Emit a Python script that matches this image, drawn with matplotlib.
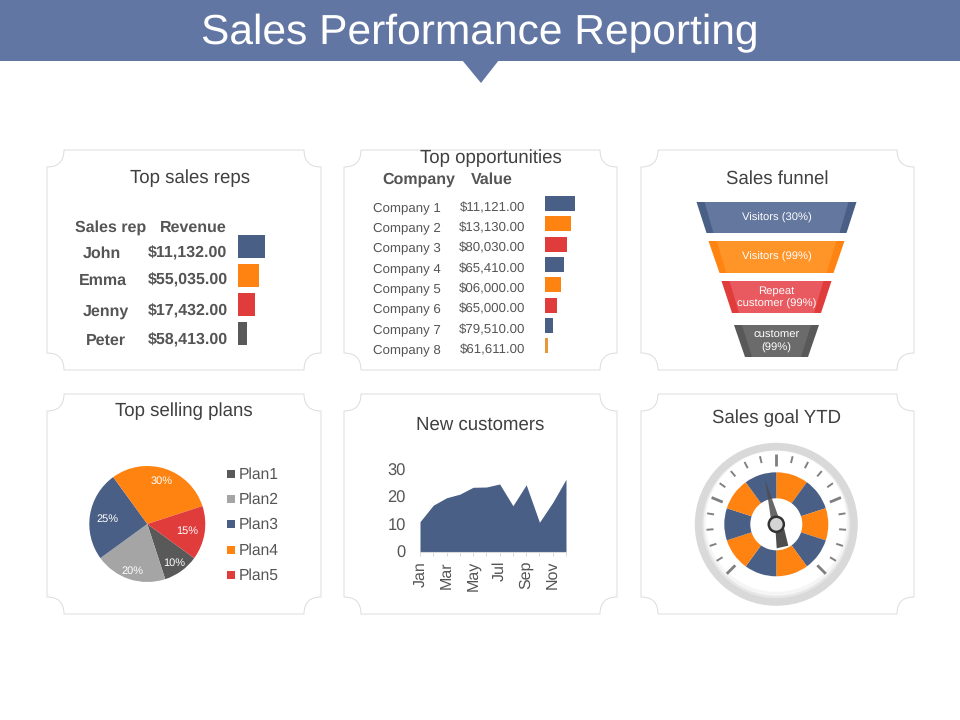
import numpy as np
import matplotlib
matplotlib.use("Agg")
import matplotlib.pyplot as plt
from matplotlib.patches import Circle, Polygon, PathPatch, Rectangle
from matplotlib.path import Path

plt.rcParams['font.family'] = ['Liberation Sans', 'DejaVu Sans']
plt.rcParams['text.hinting'] = 'none'

##### DATA #####
title = "Sales Performance Reporting"

reps = ["John", "Emma", "Jenny", "Peter"]
rep_revenue = ["$11,132.00", "$55,035.00", "$17,432.00", "$58,413.00"]
rep_bars = [27, 21, 17, 9]

companies = ["Company 1", "Company 2", "Company 3", "Company 4",
             "Company 5", "Company 6", "Company 7", "Company 8"]
company_values = ["$11,121.00", "$13,130.00", "$80,030.00", "$65,410.00",
                  "$06,000.00", "$65,000.00", "$79,510.00", "$61,611.00"]
company_bars = [30, 26, 22, 19, 16, 12, 8, 3]

funnel_labels = ["Visitors (30%)", "Visitors (99%)", "Repeat\ncustomer (99%)", "customer\n(99%)"]

plans = ["Plan1", "Plan2", "Plan3", "Plan4", "Plan5"]
plan_share = [10, 20, 25, 30, 15]

months = ["Jan", "", "Mar", "", "May", "", "Jul", "", "Sep", "", "Nov", ""]
new_customers = [11, 17, 19.7, 21, 23.5, 23.6, 24.7, 16.8, 24.4, 10.8, 18, 26.4]

goal_segments = [10, 10, 10, 10, 10, 10, 10, 10, 10, 10]

##### COLOURS #####
BLUE = "#4a5f85"
ORANGE = "#ff8310"
RED = "#e03c3c"
GREY = "#595959"
LIGHT = "#a5a5a5"
HEADER = "#6276a3"
TXT = "#404040"
TBL = "#555555"

W, H = 960, 720
fig = plt.figure(figsize=(W/100, H/100), dpi=100, facecolor="white")
bg = fig.add_axes([0, 0, 1, 1])
bg.set_xlim(0, W)
bg.set_ylim(H, 0)
bg.axis("off")


def px(size):
    return size*0.72


def px_axes(x0, y0, x1, y1):
    # axes placed by pixel box, y measured from the top
    return fig.add_axes([x0/W, 1-y1/H, (x1-x0)/W, (y1-y0)/H])


def label(x, y, s, size, color=TXT, ha="center", weight="normal", **kw):
    # y is the middle of the capitals, so rows with and without descenders line up
    bg.text(x, y+0.35*size, s, fontsize=px(size), color=color, ha=ha, va="baseline", fontweight=weight, **kw)


def card(x0, y0, x1, y1, r=17):
    verts = [(x0+r, y0), (x1-r, y0), (x1-r, y0+r), (x1, y0+r),
             (x1, y1-r), (x1-r, y1-r), (x1-r, y1), (x0+r, y1),
             (x0+r, y1-r), (x0, y1-r), (x0, y0+r), (x0+r, y0+r), (x0+r, y0)]
    codes = [Path.MOVETO, Path.LINETO, Path.CURVE3, Path.CURVE3,
             Path.LINETO, Path.CURVE3, Path.CURVE3, Path.LINETO,
             Path.CURVE3, Path.CURVE3, Path.LINETO, Path.CURVE3, Path.CURVE3]
    bg.add_patch(PathPatch(Path(verts, codes), fc="white", ec="#dcdcdc", lw=0.7))


# header
bg.add_patch(Rectangle((0, 0), W, 61, fc=HEADER, ec="none"))
bg.add_patch(Polygon([(462, 60), (499, 60), (481, 83)], fc=HEADER, ec="none"))
label(480, 29.5, title, 42.5, color="white")

# cards
for x0, x1 in [(47, 321), (344, 617), (641, 914)]:
    card(x0, 150, x1, 370)
    card(x0, 394, x1, 614)

label(190, 177, "Top sales reps", 18.6)
label(491, 157, "Top opportunities", 18.6)
label(777, 177, "Sales funnel", 18.6)
label(184, 410, "Top selling plans", 18.6)
label(480, 423, "New customers", 18.6)
label(777, 417, "Sales goal YTD", 18.6)

# top sales reps
label(111, 226, "Sales rep", 16, color=TBL, weight="bold")
label(193, 226, "Revenue", 16, color=TBL, weight="bold")
for rep, rev, yy, xx in zip(reps, rep_revenue, [252, 279, 310, 339], [102, 103, 106, 106]):
    label(xx, yy, rep, 16, color=TBL, weight="bold")
    label(227.5, yy, rev, 16, color=TBL, ha="right", weight="bold")

ax1 = px_axes(238, 232, 265, 348)
ax1.barh(range(len(reps)), rep_bars, height=0.82, color=[BLUE, ORANGE, RED, GREY])
ax1.set_xlim(0, 27)
ax1.set_ylim(len(reps)-0.5, -0.5)
ax1.axis("off")

# top opportunities
label(418.5, 178, "Company", 16, color=TBL, weight="bold")
label(492, 178, "Value", 16, color=TBL, weight="bold")
rows = [207, 227, 247, 268, 288, 308, 329, 349]
for comp, val, yy in zip(companies, company_values, rows):
    label(373, yy, comp, 13.2, color=TBL, ha="left")
    label(525, yy, val, 13.2, color=TBL, ha="right")

ax2 = px_axes(545, 193.3, 575, 356.1)
ax2.barh(range(len(companies)), company_bars, height=0.74,
         color=[BLUE, ORANGE, RED, BLUE, ORANGE, RED, BLUE, "#e8963c"])
ax2.set_xlim(0, 30)
ax2.set_ylim(len(companies)-0.5, -0.5)
ax2.axis("off")

# sales funnel
cx = 776.5
funnel_top = [202, 241, 281, 325]
funnel_bot = [233, 273, 313, 357]
half_top = [80, 68, 55, 42.5]
half_bot = [70, 57, 44.5, 31.5]
edge_cols = [BLUE, ORANGE, RED, GREY]
face_cols = ["#64779e", "#ff9428", "#e85a5f", "#6b6b6b"]
for i, lab in enumerate(funnel_labels):
    t, b, ht, hb = funnel_top[i], funnel_bot[i], half_top[i], half_bot[i]
    bg.add_patch(Polygon([(cx-ht, t), (cx+ht, t), (cx+hb, b), (cx-hb, b)], fc=edge_cols[i], ec="none"))
    bg.add_patch(Polygon([(cx-ht+8, t), (cx+ht-8, t), (cx+hb-7, b), (cx-hb+7, b)], fc=face_cols[i], ec="none"))
    bg.text(cx, (t+b)/2, lab, fontsize=px(11.3), color="white", ha="center", va="center",
            multialignment="center", linespacing=1.35)

# top selling plans
plan_cols = [GREY, LIGHT, BLUE, ORANGE, RED]
ax3 = px_axes(147.3-58, 524-58, 147.3+58, 524+58)
wedges, _, autotexts = ax3.pie(plan_share, colors=plan_cols, startangle=-36, counterclock=False,
                               radius=1, autopct="%d%%", pctdistance=0.77,
                               textprops=dict(color="white", fontsize=px(11)))
ax3.set_xlim(-1, 1)
ax3.set_ylim(-1, 1)
# labels sit at slightly different radii in the original
for w, t, rr in zip(wedges, autotexts, [0.8, 0.83, 0.7, 0.8, 0.7]):
    a = np.deg2rad((w.theta1+w.theta2)/2)
    t.set_position((rr*np.cos(a), rr*np.sin(a)-0.02))

for plan, col, yy in zip(plans, plan_cols, [473, 498, 523, 549, 574]):
    bg.add_patch(Rectangle((227, yy-3.5), 8, 8, fc=col, ec="none"))
    label(239, yy, plan, 15.6, color=TBL, ha="left")

# new customers
ax4 = px_axes(420, 469.4, 566, 552)
ax4.fill_between(range(len(new_customers)), new_customers, 0, color=BLUE, lw=0)
ax4.set_xlim(0, len(new_customers)-1)
ax4.set_ylim(0, 30)
ax4.set_yticks([0, 10, 20, 30])
ax4.set_xticks(range(len(months)))
ax4.set_xticklabels(months, rotation=90)
ax4.tick_params(axis="y", length=0, pad=px(14), labelsize=px(16.5), labelcolor=TBL)
ax4.tick_params(axis="x", length=px(4), width=0.7, color="#d9d9d9", pad=px(5),
                labelsize=px(16), labelcolor=TBL)
for side in ["top", "right", "left"]:
    ax4.spines[side].set_visible(False)
ax4.spines["bottom"].set_color("#d9d9d9")
ax4.patch.set_alpha(0)

# sales goal gauge
gx, gy = 776.3, 524.3
bg.add_patch(Circle((gx, gy), 81.5, fc="#d9d9d9", ec="none"))
bg.add_patch(Circle((gx, gy), 74, fc="#e6e6e6", ec="none"))
bg.add_patch(Circle((gx, gy-1), 72.5, fc="#f5f5f5", ec="none"))
bg.add_patch(Circle((gx, gy-3), 70.5, fc="white", ec="none"))

for k, ang in enumerate(np.arange(225, -46, -13.5)):
    a = np.deg2rad(ang)
    major = k % 5 == 0
    r0 = 58 if major else 63
    r1 = 70
    bg.plot([gx+r0*np.cos(a), gx+r1*np.cos(a)], [gy-r0*np.sin(a), gy-r1*np.sin(a)],
            color="#7f7f7f", lw=px(2.8) if major else px(1.9), solid_capstyle="butt")

ax5 = px_axes(gx-52, gy-52, gx+52, gy+52)
ax5.pie(goal_segments, colors=[ORANGE, BLUE]*5, startangle=90, counterclock=False,
        radius=1, wedgeprops=dict(width=0.5))
ax5.set_xlim(-1, 1)
ax5.set_ylim(-1, 1)
ax5.patch.set_alpha(0)

ax6 = px_axes(gx-30, gy-50, gx+30, gy+30)
ax6.set_xlim(gx-30, gx+30)
ax6.set_ylim(gy+30, gy-50)
ax6.axis("off")
ax6.add_patch(Polygon([(765, 479.3), (781, 524), (772, 526)], fc="#4d4d4d", ec="none", alpha=0.85))
ax6.add_patch(Polygon([(775.5, 530), (776.7, 548.3), (788.3, 545.7), (784, 528)], fc="#4d4d4d", ec="none"))
ax6.add_patch(Circle((gx, gy), 8.8, fc="#333333", ec="none"))
ax6.add_patch(Circle((gx, gy), 6.3, fc="#d4d4d4", ec="none"))

fig.savefig("out.png", dpi=100)
